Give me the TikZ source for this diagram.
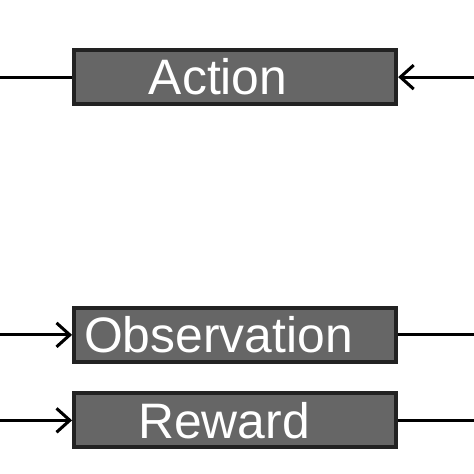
\documentclass[tikz,border=0pt]{standalone}
\usepackage{fontspec}
\setmainfont{Liberation Sans}
\usetikzlibrary{arrows.meta, positioning}
\definecolor{cbox}{HTML}{666666}
\definecolor{cedge}{HTML}{222222}

\begin{document}
\begin{tikzpicture}[
  signalbox/.style={
    rectangle, draw=cedge, fill=cbox, line width=3pt,
    minimum width=8.52cm, minimum height=1.43cm,
    inner sep=0pt
  },
  signaltext/.style={
    text=white, inner sep=0pt,
    font=\fontsize{37.5}{40}\selectfont
  },
  wire/.style={
    draw=black, line width=2.3pt
  },
  flowarrow/.style={
    wire, -{Straight Barb[length=10pt, width=18pt]}
  }
]

\useasboundingbox (0,0) rectangle (12.54,12.54);

% ============================================================
% Top: action goes out to the left, comes in from the right
% ============================================================
\node[signalbox] (action) at (6.22, 10.5) {};
\node[signaltext] (actionT) at (5.77, 10.5) {Action};
\coordinate (actL) at (0, 10.5);
\coordinate (actR) at (12.54, 10.5);

\draw[wire] (actL) -- (action.west);
\draw[flowarrow] (actR) -- (action.east);

% ============================================================
% Bottom: observation and reward come in from the left
% ============================================================
\node[signalbox] (obs) at (6.22, 3.68) {};
\node[signaltext] (obsT) at (5.78, 3.68) {Observation};
\node[signalbox] (rew) at (6.22, 1.42) {};
\node[signaltext] (rewT) at (5.93, 1.42) {Reward};

\foreach \n in {obs, rew} {
  \coordinate (\n L) at (0, 0 |- \n.west);
  \coordinate (\n R) at (12.54, 0 |- \n.east);
  \draw[flowarrow] (\n L) -- (\n.west);
  \draw[wire] (\n.east) -- (\n R);
}

\end{tikzpicture}
\end{document}
